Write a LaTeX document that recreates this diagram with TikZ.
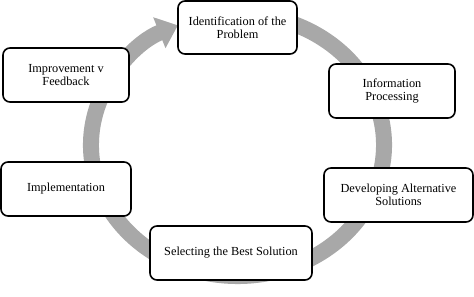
\documentclass[tikz,border=0pt]{standalone}
\usepackage{fontspec}
\setmainfont{Liberation Serif}
\usepackage{tikz}
\usetikzlibrary{shapes,arrows.meta,positioning,calc}

\begin{document}
\begin{tikzpicture}[
    x=1pt, y=1pt,
    stage/.style={rectangle, draw, line width=1.6pt, rounded corners=7pt, fill=white,
        align=center, inner sep=0pt, font=\fontsize{12.3}{12.8}\selectfont},
    ring/.style={line width=16pt, draw=black!34, -{Triangle[width=32pt, length=20pt, fill=black!34]}}
]
    \useasboundingbox (0,0) rectangle (474,297);
    \coordinate (hub) at (237.5,152);

    % the cycle behind the boxes
    \draw[ring] (hub) ++(75:146.5 and 131)
        arc[start angle=75, end angle=-246, x radius=146.5, y radius=131];

    \node[stage, minimum width=119pt, minimum height=53pt] (ident) at (237.5,269.5) {Identification of the\\Problem};
    \node[stage, minimum width=126pt, minimum height=54pt] (info) at (392,206) {Information\\Processing};
    \node[stage, minimum width=149pt, minimum height=54pt] (devel) at (398.5,102) {Developing Alternative\\Solutions};
    \node[stage, minimum width=162pt, minimum height=54pt] (select) at (231,44) {Selecting the Best Solution};
    \node[stage, minimum width=130pt, minimum height=54pt] (implem) at (66,108) {Implementation};
    \node[stage, minimum width=126pt, minimum height=54pt] (improv) at (66,222) {Improvement v\\Feedback};
\end{tikzpicture}
\end{document}
